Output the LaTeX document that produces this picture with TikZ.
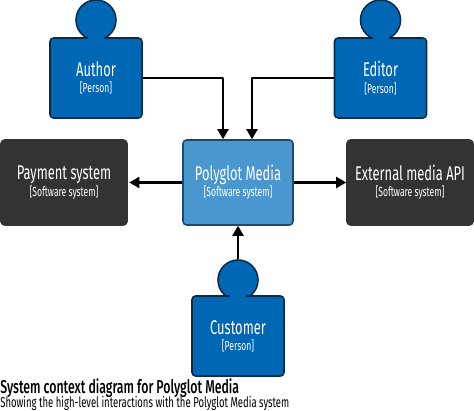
\documentclass[tikz,border=0pt]{standalone}
\usepackage{fontspec}
\setmainfont[FakeStretch=0.65]{Fira Sans}
\newfontfamily\captionfont[FakeStretch=0.66]{Fira Sans}
\newfontfamily\titlefont[FakeStretch=0.66]{Fira Sans Medium}
\usepackage{tikz}
\usetikzlibrary{arrows.meta}
\definecolor{personblue}{HTML}{0067B4}
\definecolor{persondark}{HTML}{0A2C4C}
\definecolor{systemblue}{HTML}{4A96CF}
\definecolor{systemline}{HTML}{1D4A6E}
\definecolor{extgray}{HTML}{333333}
\newcommand{\boxlabel}[2]{{\fontsize{11.3}{11}\selectfont #1}\\[-2.8pt]{\fontsize{7.5}{8}\selectfont [#2]}}
\tikzset{
  boxbase/.style={draw, line width=0.9pt, rounded corners=2pt, align=center, text=white, inner sep=0pt},
  personbody/.style={boxbase, fill=personblue, draw=persondark, minimum width=1.84cm, minimum height=1.6cm},
  personhead/.style={circle, draw=persondark, fill=personblue, line width=0.9pt, minimum size=0.8cm, inner sep=0pt},
  mainbox/.style={boxbase, fill=systemblue, draw=systemline, text=white, minimum width=2.2cm, minimum height=1.7cm},
  extbox/.style={boxbase, fill=extgray, draw=black!80, minimum width=2.52cm, minimum height=1.7cm},
  conn/.style={line width=1.2pt, -{Stealth[inset=0pt, length=2mm, width=2.2mm]}},
  caption/.style={anchor=west, inner sep=0pt, text=black}
}
\begin{document}
\begin{tikzpicture}[line join=round]
\useasboundingbox (0,0) rectangle (9.48,8.2);
% people
\node[personhead] (authorhead) at (1.92,7.8) {};
\node[personbody] (author) at (1.92,6.64) {\boxlabel{Author}{Person}};
\fill[personblue] (1.76,7.4) rectangle (2.08,7.6);
\node[personhead] (editorhead) at (7.61,7.8) {};
\node[personbody] (editor) at (7.61,6.64) {\boxlabel{Editor}{Person}};
\fill[personblue] (7.45,7.4) rectangle (7.77,7.6);
\node[personhead] (customerhead) at (4.76,2.6) {};
\node[personbody] (customer) at (4.76,1.48) {\boxlabel{Customer}{Person}};
\fill[personblue] (4.6,2.24) rectangle (4.92,2.4);
% systems
\node[mainbox] (polyglot) at (4.76,4.55) {\boxlabel{Polyglot Media}{Software system}};
\node[extbox] (payment) at (1.28,4.55) {\boxlabel{Payment system}{Software system}};
\node[extbox] (external) at (8.2,4.55) {\boxlabel{External media API}{Software system}};
% arrows
\draw[conn] (author.east) -| ([xshift=-0.3cm]polyglot.north);
\draw[conn] (editor.west) -| ([xshift=0.28cm]polyglot.north);
\draw[conn] (polyglot.west) -- ([xshift=0.03cm]payment.east);
\draw[conn] (polyglot.east) -- (external.west);
\draw[conn] (customerhead.north) -- (polyglot.south);
% caption
\node[caption] (title) at (0,0.43) {\fontsize{10.6}{12}\selectfont\titlefont System context diagram for Polyglot Media};
\node[caption] (subtitle) at (0,0.13) {\fontsize{8.2}{10}\selectfont\captionfont Showing the high-level interactions with the Polyglot Media system};
\end{tikzpicture}
\end{document}
